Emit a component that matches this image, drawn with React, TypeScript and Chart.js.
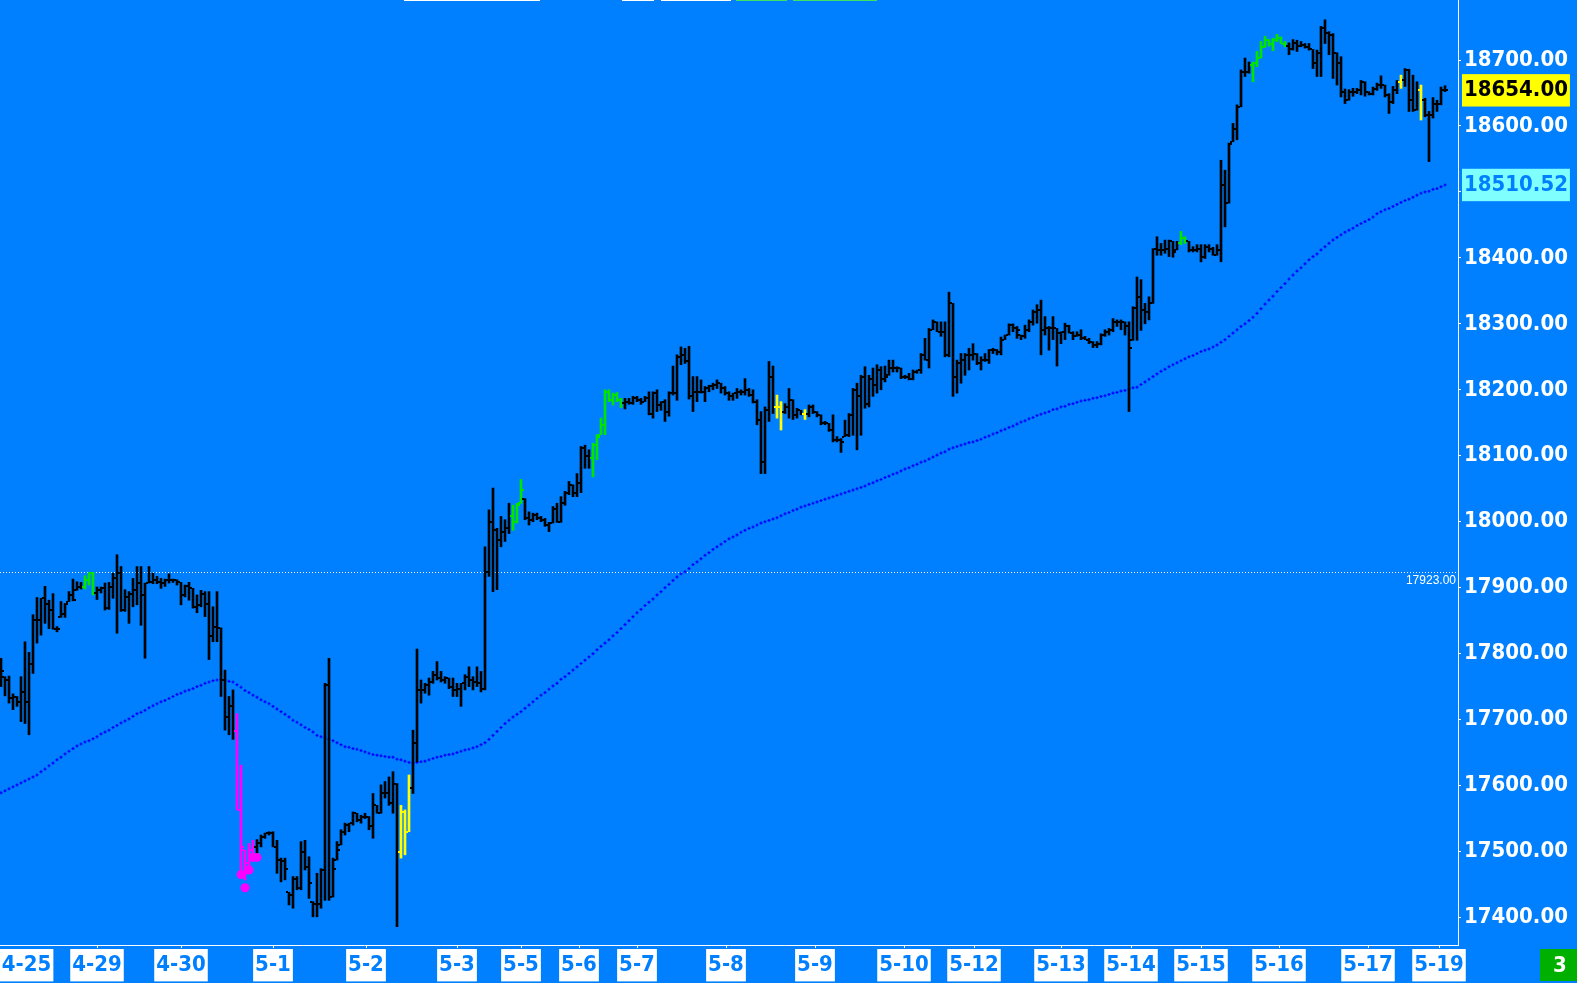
import React, { useEffect, useRef } from 'react';
import { Chart, registerables } from 'chart.js';

Chart.register(...registerables);

// ---------- DATA ----------
const highs = [
  17793,17765,17766,17739,17735,17765,17818,17802,17859,17885,
  17884,17902,17881,17891,17841,17879,17876,17894,17913,17909,
  17908,17918,17923,17923,17901,17901,17907,17908,17922,17950,
  17932,17897,17894,17914,17932,17932,17907,17932,17922,17917,
  17914,17913,17921,17913,17912,17908,17904,17908,17899,17889,
  17896,17894,17894,17871,17894,17839,17775,17735,17745,17709,
  17631,17502,17512,17517,17518,17525,17528,17530,17530,17517,
  17490,17490,17438,17462,17462,17515,17517,17492,17424,17467,
  17474,17755,17793,17490,17515,17533,17543,17543,17560,17558,
  17555,17558,17553,17588,17570,17601,17606,17613,17621,17603,
  17570,17563,17616,17684,17807,17760,17755,17763,17773,17788,
  17773,17765,17763,17763,17755,17755,17768,17780,17765,17780,
  17773,17962,18018,18051,17990,18008,18003,18028,18025,18028,
  18064,18035,18015,18013,18013,18008,18005,17999,18023,18028,
  18038,18046,18061,18056,18073,18114,18116,18109,18119,18132,
  18157,18200,18200,18195,18196,18187,18187,18187,18190,18190,
  18187,18190,18197,18197,18200,18182,18185,18197,18236,18253,
  18265,18263,18266,18220,18220,18215,18205,18207,18210,18215,
  18210,18205,18197,18195,18202,18200,18217,18202,18200,18185,
  18167,18174,18243,18236,18192,18182,18179,18202,18185,18172,
  18169,18170,18177,18177,18167,18162,18152,18149,18162,18129,
  18126,18154,18164,18202,18210,18222,18235,18222,18233,18238,
  18235,18236,18245,18245,18235,18233,18222,18225,18230,18230,
  18255,18278,18293,18306,18303,18303,18303,18348,18331,18245,
  18255,18255,18263,18270,18255,18250,18255,18261,18263,18261,
  18280,18283,18300,18300,18296,18283,18298,18306,18321,18329,
  18336,18311,18296,18311,18293,18288,18301,18298,18288,18288,
  18291,18281,18278,18273,18273,18285,18291,18293,18308,18306,
  18306,18303,18303,18326,18371,18367,18331,18341,18414,18432,
  18422,18427,18427,18425,18425,18440,18432,18425,18417,18420,
  18420,18420,18420,18416,18420,18548,18533,18574,18604,18632,
  18685,18703,18697,18697,18713,18728,18736,18731,18733,18739,
  18735,18728,18726,18731,18730,18728,18725,18725,18716,18715,
  18751,18761,18743,18740,18711,18705,18656,18655,18657,18657,
  18669,18667,18652,18659,18665,18676,18662,18649,18660,18669,
  18677,18687,18686,18677,18667,18662,18642,18622,18643,18639,
  18659,18661
];

const lows = [
  17750,17736,17725,17715,17720,17697,17694,17677,17770,17816,
  17828,17846,17838,17837,17833,17855,17855,17879,17880,17896,
  17898,17898,17904,17889,17882,17892,17866,17867,17884,17831,
  17864,17864,17846,17871,17874,17843,17793,17907,17906,17906,
  17899,17902,17907,17908,17904,17874,17886,17881,17869,17862,
  17871,17856,17791,17818,17818,17735,17684,17677,17670,17563,
  17462,17457,17477,17492,17492,17507,17520,17525,17507,17467,
  17454,17457,17419,17414,17442,17442,17472,17429,17401,17401,
  17414,17426,17426,17431,17487,17510,17525,17530,17540,17545,
  17543,17550,17533,17520,17558,17558,17581,17570,17558,17386,
  17490,17495,17530,17588,17636,17725,17740,17737,17755,17760,
  17757,17755,17747,17735,17735,17720,17745,17750,17745,17750,
  17742,17745,17917,17894,17897,17962,17970,17982,17987,17998,
  18028,18003,17995,18000,18003,18000,17993,17985,17998,17999,
  17999,18025,18041,18038,18038,18044,18081,18081,18068,18094,
  18132,18132,18182,18177,18182,18173,18171,18178,18178,18182,
  18178,18182,18162,18157,18167,18169,18152,18160,18192,18184,
  18238,18240,18186,18167,18182,18195,18182,18197,18200,18202,
  18195,18192,18184,18184,18187,18192,18192,18190,18180,18147,
  18073,18073,18152,18164,18157,18139,18164,18157,18155,18157,
  18162,18155,18159,18164,18159,18147,18147,18137,18121,18121,
  18105,18129,18129,18131,18109,18131,18172,18174,18190,18195,
  18200,18212,18222,18227,18227,18217,18217,18215,18215,18225,
  18225,18245,18233,18291,18288,18281,18250,18250,18190,18195,
  18210,18222,18230,18245,18238,18230,18243,18240,18255,18253,
  18253,18276,18283,18288,18278,18276,18278,18288,18298,18301,
  18253,18283,18260,18276,18236,18270,18276,18286,18276,18281,
  18276,18276,18270,18264,18264,18268,18281,18283,18288,18296,
  18291,18283,18167,18275,18275,18290,18300,18306,18331,18404,
  18404,18407,18402,18401,18412,18420,18422,18409,18409,18409,
  18394,18399,18409,18404,18404,18394,18447,18483,18576,18579,
  18629,18675,18680,18667,18690,18703,18719,18721,18714,18728,
  18725,18720,18708,18715,18713,18720,18718,18715,18687,18675,
  18675,18725,18708,18672,18662,18644,18634,18639,18645,18649,
  18647,18645,18647,18647,18654,18657,18644,18619,18634,18649,
  18657,18660,18622,18622,18624,18609,18614,18546,18612,18622,
  18632,18652
];

const closes = [
  17774,17760,17732,17735,17727,17742,17727,17785,17851,17851,
  17884,17876,17866,17838,17837,17860,17876,17889,17881,17901,
  17901,17912,17922,17892,17897,17899,17869,17901,17914,17922,
  17866,17886,17891,17897,17907,17889,17907,17909,17911,17908,
  17907,17912,17912,17911,17909,17889,17902,17899,17871,17874,
  17891,17876,17827,17840,17839,17760,17704,17720,17682,17563,
  17507,17482,17502,17507,17513,17522,17528,17528,17507,17487,
  17486,17474,17434,17459,17444,17500,17477,17452,17421,17421,
  17472,17752,17431,17474,17502,17530,17540,17543,17558,17548,
  17553,17553,17538,17570,17558,17588,17588,17573,17603,17500,
  17560,17530,17596,17664,17745,17745,17752,17757,17768,17763,
  17760,17763,17750,17745,17747,17755,17765,17760,17757,17755,
  17747,17924,18000,17987,17972,17985,17990,18008,18000,18025,
  18048,18005,18003,18010,18005,18003,17995,17998,18020,18000,
  18028,18043,18056,18043,18058,18111,18099,18096,18116,18129,
  18147,18197,18185,18192,18185,18180,18182,18180,18187,18185,
  18182,18187,18164,18195,18177,18182,18167,18195,18195,18250,
  18253,18243,18190,18197,18197,18197,18202,18205,18207,18210,
  18202,18195,18190,18195,18197,18197,18200,18192,18182,18154,
  18091,18169,18220,18174,18174,18167,18174,18185,18162,18169,
  18164,18164,18174,18167,18162,18149,18149,18139,18124,18124,
  18121,18131,18162,18200,18190,18220,18179,18217,18207,18230,
  18217,18220,18233,18233,18233,18220,18220,18217,18227,18230,
  18253,18245,18291,18303,18288,18288,18253,18331,18220,18240,
  18245,18253,18253,18255,18240,18245,18245,18260,18260,18258,
  18276,18283,18298,18293,18291,18281,18291,18303,18318,18321,
  18291,18293,18293,18293,18286,18288,18296,18286,18281,18283,
  18278,18276,18273,18268,18270,18283,18288,18291,18303,18303,
  18303,18296,18263,18324,18340,18321,18318,18331,18414,18412,
  18412,18414,18425,18409,18422,18430,18425,18412,18412,18414,
  18402,18417,18414,18404,18412,18510,18483,18573,18596,18629,
  18682,18682,18692,18695,18703,18720,18730,18725,18730,18733,
  18725,18721,18716,18726,18721,18723,18720,18716,18695,18710,
  18748,18741,18738,18710,18695,18652,18639,18652,18652,18654,
  18666,18652,18649,18656,18662,18662,18647,18637,18654,18667,
  18670,18685,18639,18624,18654,18639,18617,18617,18634,18634,
  18654,18654
];

const firstOpen = 17790;

const movingAvg = [
  17589,17592,17595,17598,17601,17604,17607,17610,17613,17616,
  17621,17625,17630,17634,17639,17643,17648,17652,17656,17660,
  17663,17666,17668,17671,17674,17678,17681,17684,17688,17691,
  17695,17698,17701,17705,17709,17711,17714,17718,17721,17724,
  17727,17729,17732,17735,17738,17740,17743,17745,17747,17750,
  17752,17755,17757,17759,17760,17761,17760,17758,17757,17753,
  17749,17744,17741,17737,17734,17730,17727,17724,17720,17716,
  17712,17708,17704,17699,17696,17692,17688,17685,17681,17676,
  17674,17672,17670,17668,17665,17662,17659,17658,17656,17655,
  17653,17651,17649,17647,17646,17645,17644,17643,17643,17640,
  17639,17637,17635,17634,17635,17636,17637,17639,17641,17643,
  17644,17646,17647,17648,17650,17652,17654,17655,17657,17659,
  17662,17665,17670,17676,17682,17688,17694,17699,17704,17708,
  17712,17717,17722,17727,17732,17737,17741,17746,17751,17755,
  17761,17765,17770,17775,17780,17785,17790,17795,17800,17806,
  17811,17816,17821,17827,17832,17838,17844,17850,17856,17862,
  17867,17873,17878,17883,17889,17894,17900,17905,17911,17916,
  17921,17924,17929,17935,17939,17944,17949,17953,17958,17962,
  17966,17970,17974,17977,17980,17984,17987,17990,17992,17995,
  17998,18000,18002,18004,18006,18009,18012,18014,18017,18019,
  18022,18024,18026,18028,18030,18032,18034,18036,18038,18040,
  18042,18044,18046,18048,18050,18052,18054,18057,18059,18062,
  18064,18067,18069,18072,18074,18077,18080,18082,18085,18087,
  18090,18092,18095,18098,18101,18104,18106,18110,18112,18114,
  18116,18118,18120,18121,18123,18125,18128,18130,18133,18135,
  18138,18140,18143,18145,18148,18151,18153,18156,18158,18161,
  18163,18165,18167,18170,18171,18174,18175,18178,18179,18181,
  18183,18184,18185,18187,18188,18190,18191,18193,18195,18196,
  18198,18199,18201,18203,18204,18208,18212,18216,18220,18224,
  18228,18231,18235,18238,18241,18244,18247,18250,18252,18255,
  18258,18260,18262,18265,18268,18272,18276,18281,18286,18291,
  18296,18300,18305,18310,18316,18323,18330,18336,18342,18349,
  18355,18361,18368,18374,18380,18385,18391,18397,18402,18406,
  18412,18417,18422,18427,18431,18435,18439,18442,18445,18449,
  18452,18455,18458,18462,18467,18470,18473,18475,18478,18481,
  18484,18487,18489,18492,18495,18498,18500,18501,18504,18505,
  18508,18510.52
];

// signal categories (bar indices)
const upSignalBars = [21,22,23,128,129,130,148,149,150,151,152,153,154,155,295,296,313,314,315,316,317,318,319,320,321];
const cautionBars = [100,101,102,194,195,201,350,355];
const downSignalBars = [59,60,61,62,63];

// signal dots
const dotBars = [60,61,62,63,64];
const dotPrices = [17465,17445,17472,17491,17491];

// time axis
const dayTickPositions = [6.4,24,45,68,91.25,114,130,144.5,159,181.25,203.5,225.75,243.25,265,282.5,300,319.5,341.75,359.5];
const dayLabels = ['4-25','4-29','4-30','5-1','5-2','5-3','5-5','5-6','5-7','5-8','5-9','5-10','5-12','5-13','5-14','5-15','5-16','5-17','5-19'];

// price axis
const priceTicks = [17400,17500,17600,17700,17800,17900,18000,18100,18200,18300,18400,18500,18600,18700];
const priceMin = 17358.25;
const priceMax = 18790.97;
const refLevel = 17923;
const lastPrice = closes[closes.length - 1];
const avgPrice = movingAvg[movingAvg.length - 1];

// ---------- STYLE ----------
const BG = '#0080FF';
const AXIS_FONT = '"DejaVu Sans Condensed", "DejaVu Sans", sans-serif';
const upSet = new Set(upSignalBars);
const cautionSet = new Set(cautionBars);
const downSet = new Set(downSignalBars);
function barColor(i: number): string {
  if (upSet.has(i)) return '#00E400';
  if (cautionSet.has(i)) return '#FFFF00';
  if (downSet.has(i)) return '#FF00FF';
  return '#000000';
}

const ohlcTicksPlugin = {
  id: 'ohlcTicks',
  afterDatasetDraw(chart: any, args: any) {
    if (args.index !== 1) return;
    const ctx = chart.ctx;
    const xs = chart.scales.x;
    const ys = chart.scales.y;
    const a = chart.chartArea;
    ctx.save();
    ctx.beginPath();
    ctx.rect(a.left, a.top, a.right - a.left, a.bottom - a.top);
    ctx.clip();
    for (let i = 0; i < closes.length; i++) {
      const prev = i > 0 ? closes[i - 1] : firstOpen;
      const open = Math.min(highs[i], Math.max(lows[i], prev));
      const x = Math.round(xs.getPixelForValue(i));
      const yo = Math.round(ys.getPixelForValue(open));
      const yc = Math.round(ys.getPixelForValue(closes[i]));
      ctx.fillStyle = barColor(i);
      ctx.fillRect(x - 3, yo - 1, 2, 2);
      ctx.fillRect(x + 1, yc - 1, 2, 2);
    }
    ctx.restore();
  },
};

const decorPlugin = {
  id: 'decor',
  beforeDatasetsDraw(chart: any) {
    const ctx = chart.ctx;
    const a = chart.chartArea;
    const y = Math.round(chart.scales.y.getPixelForValue(refLevel)) + 0.5;
    ctx.save();
    ctx.strokeStyle = '#FFFFFF';
    ctx.lineWidth = 1;
    ctx.setLineDash([1, 2]);
    ctx.beginPath();
    ctx.moveTo(a.left, y);
    ctx.lineTo(a.right, y);
    ctx.stroke();
    ctx.setLineDash([]);
    ctx.fillStyle = '#FFFFFF';
    ctx.font = '12px "Liberation Sans", Arial, sans-serif';
    ctx.textAlign = 'right';
    ctx.textBaseline = 'top';
    ctx.fillText(refLevel.toFixed(2), a.right - 2, y + 2);
    ctx.restore();
  },
  afterDraw(chart: any) {
    const ctx = chart.ctx;
    ctx.save();
    // cut-off header strips
    ctx.fillStyle = '#FFFFFF';
    ctx.fillRect(404, 0, 136, 1);
    ctx.fillRect(622, 0, 32, 1);
    ctx.fillRect(661, 0, 70, 1);
    ctx.fillStyle = '#40E060';
    ctx.fillRect(736, 0, 51, 1);
    ctx.fillRect(793, 0, 84, 1);
    // corner badge
    ctx.fillStyle = '#00B000';
    ctx.fillRect(1540, 949, 37, 32);
    ctx.fillStyle = '#FFFFFF';
    ctx.font = 'bold 22px ' + AXIS_FONT;
    ctx.textAlign = 'center';
    ctx.textBaseline = 'middle';
    ctx.fillText('3', 1560, 966);
    ctx.restore();
  },
};

export default function App() {
  const ref = useRef<HTMLCanvasElement>(null);
  useEffect(() => {
    document.body.style.margin = '0';
    const canvas = ref.current;
    if (!canvas) return;
    const isSpecial = (v: number) => v === lastPrice || v === avgPrice;
    const chart = new Chart(canvas, {
      type: 'bar',
      data: {
        datasets: [
          {
            type: 'line',
            label: 'MA',
            data: movingAvg.map((v, i) => ({ x: i, y: v })),
            showLine: false,
            pointStyle: 'cross',
            pointRadius: 1.5,
            pointBorderWidth: 1.2,
            pointBorderColor: '#0000FF',
            pointBackgroundColor: '#0000FF',
            order: 2,
          } as any,
          {
            type: 'bar',
            label: 'Range',
            data: highs.map((h, i) => ({ x: i, y: [lows[i], h] })),
            backgroundColor: highs.map((_, i) => barColor(i)),
            borderWidth: 0,
            barThickness: 2,
            grouped: false,
            order: 1,
          } as any,
          {
            type: 'line',
            label: 'Signal',
            data: dotBars.map((b, i) => ({ x: b, y: dotPrices[i] })),
            showLine: false,
            pointStyle: 'circle',
            pointRadius: 4.5,
            pointBorderWidth: 0,
            pointBackgroundColor: '#FF00FF',
            pointBorderColor: '#FF00FF',
            order: 0,
          } as any,
        ],
      },
      options: {
        responsive: false,
        devicePixelRatio: 1,
        animation: false,
        events: [],
        layout: { padding: 0, autoPadding: false } as any,
        plugins: {
          legend: { display: false },
          tooltip: { enabled: false },
          title: { display: false },
        },
        scales: {
          x: {
            type: 'linear',
            min: -0.25,
            max: 364.25,
            offset: false,
            afterBuildTicks: (s: any) => {
              s.ticks = dayTickPositions.map((v) => ({ value: v }));
            },
            afterFit: (s: any) => {
              s.height = 38;
              s.paddingLeft = 0;
              s.paddingRight = 0;
              s.paddingTop = 0;
              s.paddingBottom = 0;
            },
            border: { display: true, color: '#FFFFFF', width: 1 },
            grid: {
              offset: false,
              drawOnChartArea: false,
              drawTicks: true,
              tickLength: 3,
              lineWidth: 1,
              tickColor: (c: any) => (c.index === 0 ? 'rgba(0,0,0,0)' : '#FFFFFF'),
            },
            ticks: {
              autoSkip: false,
              maxRotation: 0,
              minRotation: 0,
              padding: 4,
              color: '#0080FF',
              font: { family: AXIS_FONT, size: 22, weight: 'bold' },
              showLabelBackdrop: true,
              backdropColor: '#FFFFFF',
              backdropPadding: { top: 3, bottom: 3, left: 2, right: 2 },
              callback: (_v: any, i: number) => dayLabels[i],
            },
          } as any,
          y: {
            type: 'linear',
            position: 'right',
            min: priceMin,
            max: priceMax,
            afterBuildTicks: (s: any) => {
              s.ticks = [...priceTicks, avgPrice, lastPrice].map((v) => ({ value: v }));
            },
            afterFit: (s: any) => {
              s.width = 119;
              s.paddingLeft = 0;
              s.paddingRight = 0;
              s.paddingTop = 0;
              s.paddingBottom = 0;
            },
            border: { display: true, color: '#FFFFFF', width: 1 },
            grid: {
              drawOnChartArea: false,
              drawTicks: true,
              tickLength: 3,
              lineWidth: 1,
              tickColor: (c: any) => (c.tick && isSpecial(c.tick.value) ? 'rgba(0,0,0,0)' : '#FFFFFF'),
            },
            ticks: {
              autoSkip: false,
              padding: 3,
              font: { family: AXIS_FONT, size: 22, weight: 'bold' },
              color: (c: any) => {
                const v = c.tick ? c.tick.value : 0;
                if (v === lastPrice) return '#000000';
                if (v === avgPrice) return '#0080FF';
                return '#FFFFFF';
              },
              showLabelBackdrop: (c: any) => !!(c.tick && isSpecial(c.tick.value)),
              backdropColor: (c: any) => {
                const v = c.tick ? c.tick.value : 0;
                if (v === lastPrice) return '#FFFF00';
                if (v === avgPrice) return '#80FFFF';
                return 'rgba(0,0,0,0)';
              },
              backdropPadding: { top: 3, bottom: 3, left: 2, right: 2 },
              callback: (v: any) => Number(v).toFixed(2),
            },
          } as any,
        },
      },
      plugins: [ohlcTicksPlugin, decorPlugin],
    } as any);
    return () => chart.destroy();
  }, []);

  return (
    <div style={{ position: 'fixed', left: 0, top: 0, width: 1577, height: 983, background: BG, overflow: 'hidden' }}>
      <canvas ref={ref} width={1577} height={983} style={{ display: 'block', width: 1577, height: 983 }} />
    </div>
  );
}
